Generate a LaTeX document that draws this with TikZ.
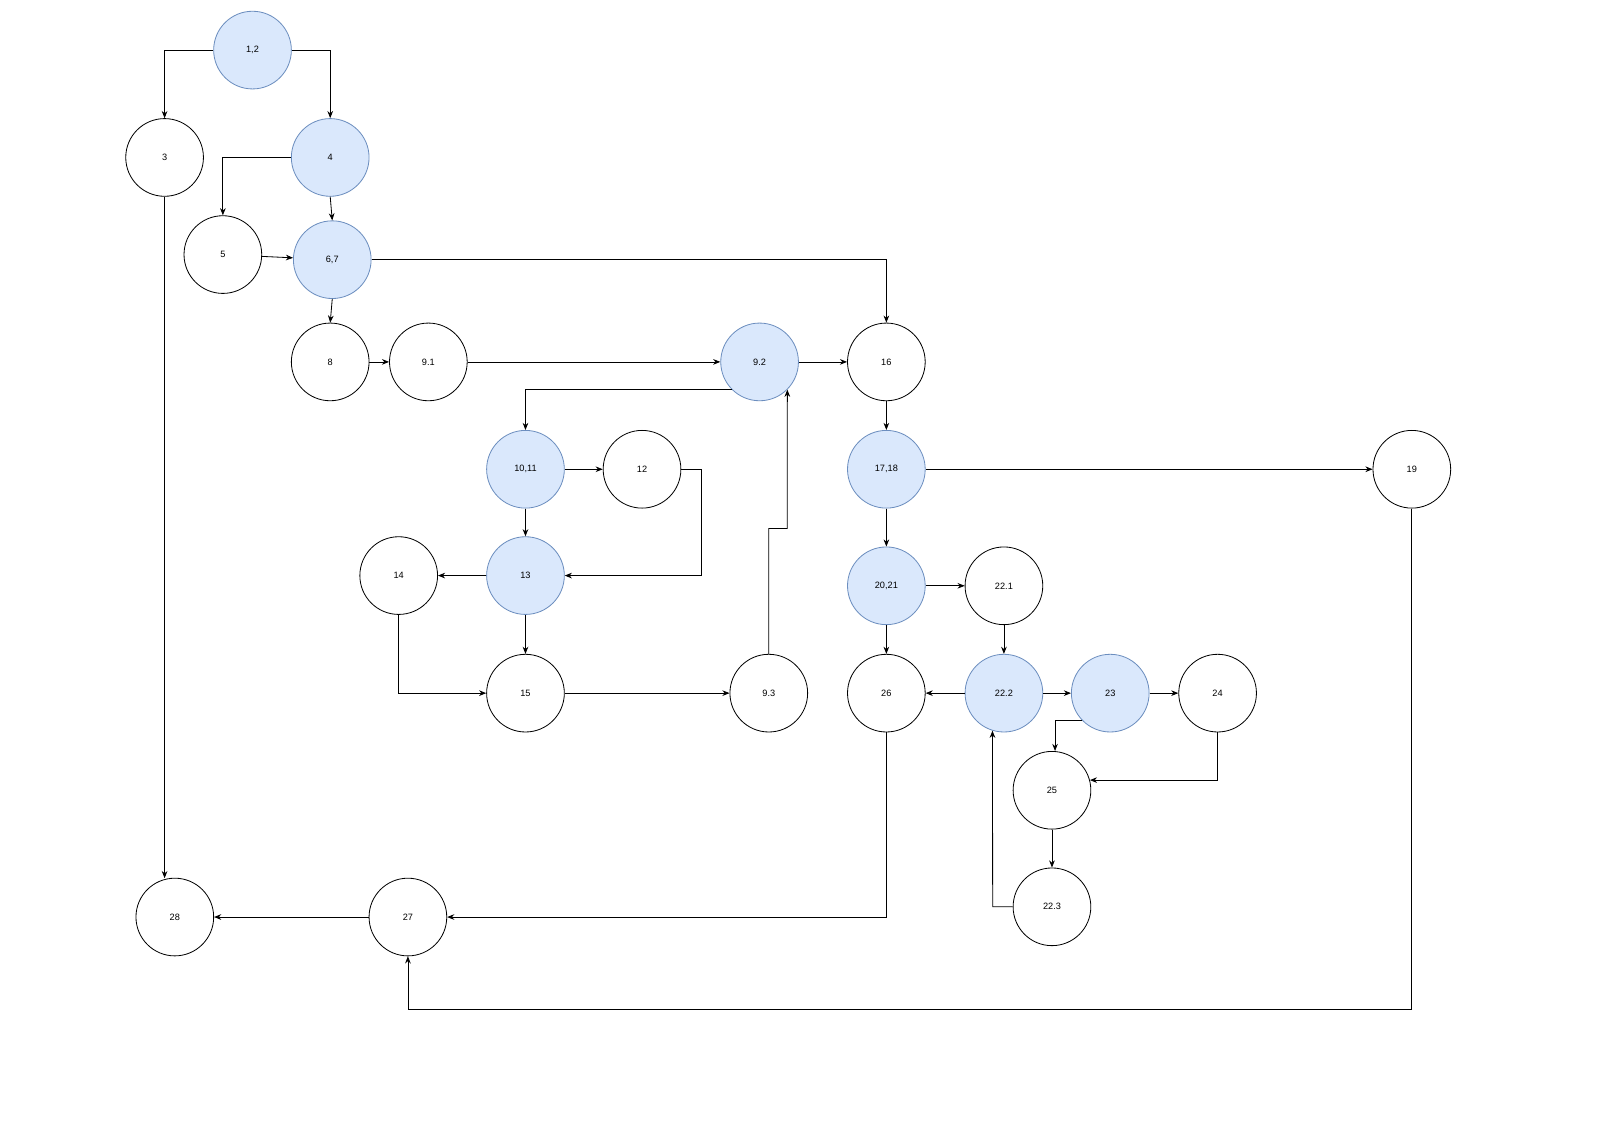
\documentclass[tikz,border=0pt]{standalone}
\usepackage{fontspec}
\setmainfont{Liberation Sans}
\usetikzlibrary{arrows.meta}
\definecolor{bfill}{HTML}{DAE8FC}
\definecolor{bdraw}{HTML}{6C8EBF}
\begin{document}
\begin{tikzpicture}[x=1pt,y=-1pt,
  st/.style={circle,draw=black,line width=0.8pt,minimum size=76pt,inner sep=0pt,font=\fontsize{9}{10}\selectfont},
  bl/.style={st,fill=bfill,draw=bdraw},
  ar/.style={-{Stealth[length=7pt,width=5.5pt]},line width=0.8pt}]
\useasboundingbox[fill=white] (0,0) rectangle (1568,1109);
\node[bl] (n12) at (247,49) {1,2};
\node[st] (n3) at (161,154) {3};
\node[bl] (n4) at (323,154) {4};
\node[st] (n5) at (218,249) {5};
\node[bl] (n67) at (325,254) {6,7};
\node[st] (n8) at (323,354) {8};
\node[st] (n91) at (419,354) {9.1};
\node[bl] (n92) at (743,354) {9.2};
\node[st] (n16) at (867,354) {16};
\node[bl] (n1011) at (514,459) {10,11};
\node[st] (n12b) at (628,459) {12};
\node[bl] (n1718) at (867,459) {17,18};
\node[st] (n19) at (1381,459) {19};
\node[st] (n14) at (390,563) {14};
\node[bl] (n13) at (514,563) {13};
\node[bl] (n2021) at (867,573) {20,21};
\node[st] (n221) at (982,573) {22.1};
\node[st] (n15) at (514,678) {15};
\node[st] (n93) at (752,678) {9.3};
\node[st] (n26) at (867,678) {26};
\node[bl] (n222) at (982,678) {22.2};
\node[bl] (n23) at (1086,678) {23};
\node[st] (n24) at (1191,678) {24};
\node[st] (n25) at (1029,773) {25};
\node[st] (n223) at (1029,887) {22.3};
\node[st] (n28) at (171,897) {28};
\node[st] (n27) at (399,897) {27};
\coordinate (c28) at (161,859);
\coordinate (c93) at (770,517);
\coordinate (c12) at (686,459);
\coordinate (c223) at (971,887);
\coordinate (c19) at (1381,987);
\draw[ar] (n12.west) -| (n3.north);
\draw[ar] (n12.east) -| (n4.north);
\draw[ar] (n3.south) -- (c28);
\draw[ar] (n4.west) -| (n5.north);
\draw[ar] (n4.south) -- (n67.north);
\draw[ar] (n5) -- (n67);
\draw[ar] (n67.east) -| (n16.north);
\draw[ar] (n67.south) -- (n8.north);
\draw[ar] (n8) -- (n91);
\draw[ar] (n91) -- (n92);
\draw[ar] (n92) -- (n16);
\draw[ar] (n92.225) -| (n1011.north);
\draw[ar] (n1011) -- (n12b);
\draw[ar] (n1011) -- (n13);
\draw[ar] (n12b.east) -- (c12) |- (n13.east);
\draw[ar] (n13) -- (n14);
\draw[ar] (n13) -- (n15);
\draw[ar] (n14.south) |- (n15.west);
\draw[ar] (n15) -- (n93);
\draw[ar] (n93.north) |- (c93) -- (n92.-45);
\draw[ar] (n16) -- (n1718);
\draw[ar] (n1718) -- (n19);
\draw[ar] (n1718) -- (n2021);
\draw[ar] (n2021) -- (n221);
\draw[ar] (n2021) -- (n26);
\draw[ar] (n221) -- (n222);
\draw[ar] (n222) -- (n26);
\draw[ar] (n222) -- (n23);
\draw[ar] (n23) -- (n24);
\draw[ar] (n23.225) -| ([xshift=3pt]n25.north);
\draw[ar] (n24.south) |- (n25.15);
\draw[ar] (n25) -- (n223);
\draw[ar] (n223.west) -- (c223) -- (n222.253);
\draw[ar] (n26.south) |- (n27.east);
\draw[ar] (n27) -- (n28);
\draw[ar] (n19.south) -- (c19) -| (n27.south);
\end{tikzpicture}
\end{document}
